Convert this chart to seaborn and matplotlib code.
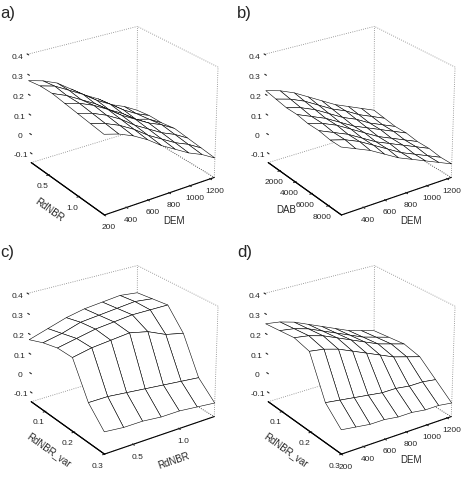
import numpy as np
import matplotlib
matplotlib.use("Agg")
import matplotlib.pyplot as plt
import seaborn as sns

sns.set_style("white")
plt.rcParams["font.family"] = ["Liberation Sans", "DejaVu Sans"]

# panel a: RdNBR x DEM
a_x = [0.2, 0.4, 0.6, 0.8, 1.0, 1.2, 1.4]
a_y = [200, 330, 460, 590, 720, 850, 980, 1110, 1240]
a_z = [
    [0.27, 0.25, 0.22, 0.17, 0.12, 0.08, 0.03, 0.00, -0.04],
    [0.28, 0.26, 0.22, 0.18, 0.13, 0.09, 0.04, 0.00, -0.03],
    [0.28, 0.25, 0.21, 0.17, 0.12, 0.08, 0.03, 0.01, -0.03],
    [0.27, 0.25, 0.22, 0.18, 0.13, 0.09, 0.05, 0.02, -0.02],
    [0.26, 0.24, 0.21, 0.17, 0.12, 0.08, 0.04, 0.01, -0.03],
    [0.25, 0.23, 0.20, 0.16, 0.11, 0.07, 0.03, 0.00, -0.04],
    [0.24, 0.22, 0.19, 0.15, 0.10, 0.06, 0.02, -0.01, -0.05],
]

# panel b: DAB x DEM
b_x = [500, 1800, 3100, 4400, 5700, 7000, 8300, 9500]
b_y = [200, 330, 460, 590, 720, 850, 980, 1110, 1240]
b_z = [
    [0.22, 0.20, 0.17, 0.13, 0.09, 0.05, 0.02, -0.01, -0.04],
    [0.21, 0.19, 0.16, 0.12, 0.08, 0.05, 0.01, -0.02, -0.05],
    [0.20, 0.18, 0.15, 0.11, 0.07, 0.04, 0.00, -0.03, -0.06],
    [0.20, 0.17, 0.14, 0.10, 0.06, 0.03, 0.00, -0.03, -0.06],
    [0.19, 0.17, 0.14, 0.10, 0.06, 0.02, -0.01, -0.04, -0.07],
    [0.19, 0.16, 0.13, 0.09, 0.05, 0.02, -0.01, -0.04, -0.07],
    [0.18, 0.16, 0.13, 0.09, 0.05, 0.01, -0.02, -0.05, -0.08],
    [0.18, 0.15, 0.12, 0.08, 0.04, 0.01, -0.02, -0.05, -0.08],
]

# panel c: RdNBR_var x RdNBR
c_x = [0.05, 0.1, 0.15, 0.2, 0.25, 0.3]
c_y = [0.2, 0.4, 0.6, 0.8, 1.0, 1.2, 1.4]
c_z = [
    [0.17, 0.20, 0.23, 0.25, 0.26, 0.27, 0.26],
    [0.20, 0.22, 0.25, 0.26, 0.27, 0.28, 0.27],
    [0.22, 0.24, 0.26, 0.27, 0.28, 0.28, 0.28],
    [0.22, 0.24, 0.25, 0.26, 0.24, 0.20, 0.18],
    [0.05, 0.05, 0.04, 0.03, 0.02, 0.01, 0.00],
    [-0.04, -0.05, -0.05, -0.06, -0.06, -0.07, -0.08],
]

# panel d: RdNBR_var x DEM
d_x = [0.05, 0.1, 0.15, 0.2, 0.25, 0.3]
d_y = [200, 330, 460, 590, 720, 850, 980, 1110, 1240]
d_z = [
    [0.25, 0.24, 0.22, 0.19, 0.16, 0.13, 0.10, 0.08, 0.06],
    [0.26, 0.25, 0.23, 0.20, 0.17, 0.14, 0.11, 0.09, 0.07],
    [0.27, 0.26, 0.24, 0.21, 0.18, 0.15, 0.12, 0.10, 0.08],
    [0.25, 0.24, 0.22, 0.19, 0.16, 0.13, 0.10, 0.08, 0.06],
    [0.05, 0.04, 0.03, 0.02, 0.01, 0.01, 0.00, 0.00, -0.01],
    [-0.03, -0.04, -0.05, -0.05, -0.06, -0.06, -0.07, -0.07, -0.08],
]

panels = [
    ("a)", a_x, a_y, a_z, "RdNBR", "DEM", [0.5, 1.0], [200, 400, 600, 800, 1000, 1200]),
    ("b)", b_x, b_y, b_z, "DAB", "DEM", [2000, 4000, 6000, 8000], [400, 600, 800, 1000, 1200]),
    ("c)", c_x, c_y, c_z, "RdNBR_var", "RdNBR", [0.1, 0.2, 0.3], [0.5, 1.0]),
    ("d)", d_x, d_y, d_z, "RdNBR_var", "DEM", [0.1, 0.2, 0.3], [200, 400, 600, 800, 1000, 1200]),
]

fig = plt.figure(figsize=(4.74, 4.88), dpi=100)
for i, (lab, xs, ys, zs, xl, yl, xt, yt) in enumerate(panels):
    ax = fig.add_subplot(2, 2, i + 1, projection="3d")
    X, Y = np.meshgrid(xs, ys, indexing="ij")
    Z = np.array(zs)
    ax.plot_surface(X, Y, Z, color="white", edgecolor="black", linewidth=0.4,
                    shade=False, rstride=1, cstride=1)
    ax.set_xlim(min(xs), max(xs))
    ax.set_ylim(min(ys), max(ys))
    ax.set_zlim(-0.15, 0.4)
    ax.set_zticks([-0.1, 0, 0.1, 0.2, 0.3, 0.4])
    ax.set_zticklabels(["-0.1", "0", "0.1", "0.2", "0.3", "0.4"])
    ax.set_xticks(xt)
    ax.set_yticks(yt)
    ax.set_xlabel(xl, fontsize=7, labelpad=-7)
    ax.set_ylabel(yl, fontsize=7, labelpad=-7)
    ax.tick_params(labelsize=6, pad=-3)
    ax.view_init(elev=25, azim=-35)
    ax.set_box_aspect((1, 1, 0.9), zoom=0.92)
    # put the z axis on the left vertical edge
    ax.zaxis._axinfo["juggled"] = (1, 0, 2)
    for a in (ax.xaxis, ax.yaxis, ax.zaxis):
        a.pane.fill = False
        a.pane.set_edgecolor("black")
        a.pane.set_linewidth(0.6)
        a.pane.set_linestyle(":")
        a.line.set_linewidth(0.8)
        a.line.set_color("black")
    ax.grid(False)
    ax.text2D(0.0, 0.93, lab, transform=ax.transAxes, fontsize=12)

plt.subplots_adjust(left=0.0, right=1.0, bottom=0.02, top=1.0, wspace=0.0, hspace=0.0)
fig.savefig("out.png", dpi=100)
